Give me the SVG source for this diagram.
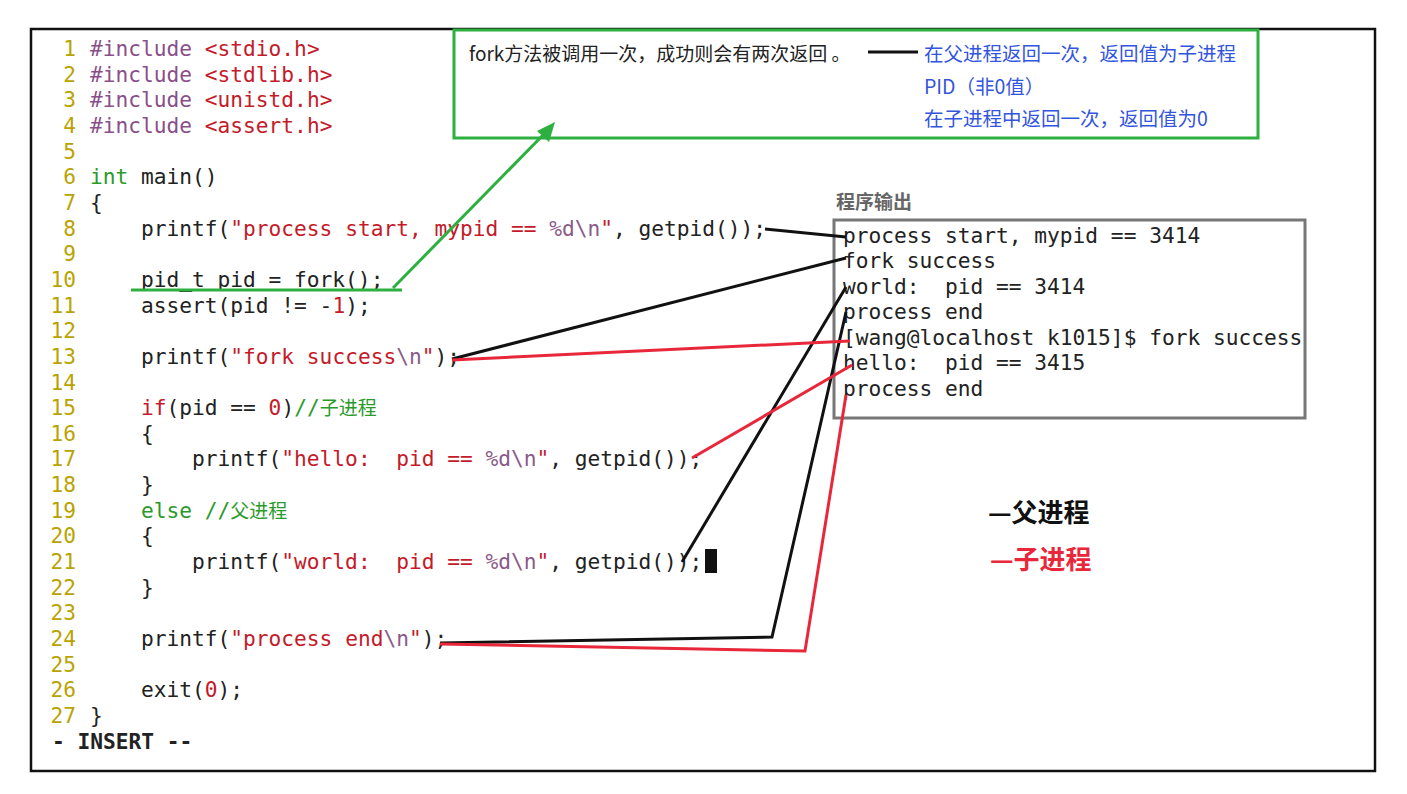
<svg xmlns="http://www.w3.org/2000/svg" width="1407" height="794" viewBox="0 0 1407 794">
<style>
.c{font-family:"DejaVu Sans Mono",monospace;font-size:21.2px;fill:#222;white-space:pre}
.n{fill:#b9a300;text-anchor:end}
.p{fill:#8a4f8a}.s{fill:#c41a2a}.k{fill:#2a9a2a}.v{fill:#8a5a8a}
.cj{font-family:"Noto Sans CJK SC",sans-serif}
.o{font-family:"DejaVu Sans Mono",monospace;font-size:21.2px;fill:#222;white-space:pre}
.bk{stroke:#111;stroke-width:3;fill:none}.rd{stroke:#e8283a;stroke-width:3;fill:none}
.bl{font-size:19.5px;fill:#3355dd}
</style>
<rect width="1407" height="794" fill="#fff"/>
<rect x="31" y="29" width="1344" height="742" fill="#fff" stroke="#111" stroke-width="2.5"/>
<g id="code">
<g class="c n">
<text x="76" y="56">1</text><text x="76" y="81.6">2</text><text x="76" y="107.3">3</text><text x="76" y="133">4</text><text x="76" y="158.6">5</text><text x="76" y="184.3">6</text><text x="76" y="209.9">7</text><text x="76" y="235.6">8</text><text x="76" y="261.2">9</text><text x="76" y="286.9">10</text><text x="76" y="312.5">11</text><text x="76" y="338.2">12</text><text x="76" y="363.8">13</text><text x="76" y="389.5">14</text><text x="76" y="415.1">15</text><text x="76" y="440.8">16</text><text x="76" y="466.4">17</text><text x="76" y="492.1">18</text><text x="76" y="517.7">19</text><text x="76" y="543.4">20</text><text x="76" y="569">21</text><text x="76" y="594.7">22</text><text x="76" y="620.3">23</text><text x="76" y="646">24</text><text x="76" y="671.6">25</text><text x="76" y="697.3">26</text><text x="76" y="722.9">27</text>
</g>
<text class="c" x="90" y="56"><tspan class="p">#include</tspan> <tspan class="s">&lt;stdio.h&gt;</tspan></text>
<text class="c" x="90" y="81.6"><tspan class="p">#include</tspan> <tspan class="s">&lt;stdlib.h&gt;</tspan></text>
<text class="c" x="90" y="107.3"><tspan class="p">#include</tspan> <tspan class="s">&lt;unistd.h&gt;</tspan></text>
<text class="c" x="90" y="133"><tspan class="p">#include</tspan> <tspan class="s">&lt;assert.h&gt;</tspan></text>
<text class="c" x="90" y="184.3"><tspan class="k">int</tspan> main()</text>
<text class="c" x="90" y="209.9">{</text>
<text class="c" x="90" y="235.6">    printf(<tspan class="s">"process start, mypid == </tspan><tspan class="v">%d\n</tspan><tspan class="s">"</tspan>, getpid());</text>
<text class="c" x="90" y="286.9">    pid_t pid = fork();</text>
<text class="c" x="90" y="312.5">    assert(pid != -<tspan class="s">1</tspan>);</text>
<text class="c" x="90" y="363.8">    printf(<tspan class="s">"fork success</tspan><tspan class="v">\n</tspan><tspan class="s">"</tspan>);</text>
<text class="c" x="90" y="415.1">    <tspan class="s">if</tspan>(pid == <tspan class="s">0</tspan>)<tspan class="k">//</tspan><tspan class="k cj" style="font-size:19px">子进程</tspan></text>
<text class="c" x="90" y="440.8">    {</text>
<text class="c" x="90" y="466.4">        printf(<tspan class="s">"hello:  pid == </tspan><tspan class="v">%d\n</tspan><tspan class="s">"</tspan>, getpid());</text>
<text class="c" x="90" y="492.1">    }</text>
<text class="c" x="90" y="517.7">    <tspan class="k">else //</tspan><tspan class="k cj" style="font-size:19px">父进程</tspan></text>
<text class="c" x="90" y="543.4">    {</text>
<text class="c" x="90" y="569">        printf(<tspan class="s">"world:  pid == </tspan><tspan class="v">%d\n</tspan><tspan class="s">"</tspan>, getpid());</text>
<text class="c" x="90" y="594.7">    }</text>
<text class="c" x="90" y="646">    printf(<tspan class="s">"process end</tspan><tspan class="v">\n</tspan><tspan class="s">"</tspan>);</text>
<text class="c" x="90" y="697.3">    exit(<tspan class="s">0</tspan>);</text>
<text class="c" x="90" y="722.9">}</text>
<text class="c" x="52" y="748.6" style="font-weight:bold">- INSERT --</text>
<rect x="705" y="549" width="12" height="24" fill="#111"/>
</g>
<g id="note">
<rect x="454" y="30" width="804" height="108" fill="#fff" stroke="#2db040" stroke-width="3"/>
<text class="cj" x="469" y="61" font-size="19" fill="#222">fork方法被调用一次，成功则会有两次返回 。</text>
<text class="cj bl" x="924" y="61">在父进程返回一次，返回值为子进程</text>
<text class="cj bl" x="924" y="94">PID（非0值）</text>
<text class="cj bl" x="924" y="126">在子进程中返回一次，返回值为0</text>
</g>
<g id="output">
<text class="cj" x="836" y="209" font-size="19" font-weight="bold" fill="#666">程序输出</text>
<rect x="834" y="220" width="471" height="198" fill="#fff" stroke="#777" stroke-width="3"/>
<text class="o" x="843" y="243">process start, mypid == 3414</text>
<text class="o" x="843" y="268">fork success</text>
<text class="o" x="843" y="294">world:  pid == 3414</text>
<text class="o" x="843" y="319">process end</text>
<text class="o" x="843" y="345">[wang@localhost k1015]$ fork success</text>
<text class="o" x="843" y="370">hello:  pid == 3415</text>
<text class="o" x="843" y="396">process end</text>
</g>
<g id="legend">
<text class="cj" x="988" y="522" font-size="26" font-weight="bold" fill="#111">—父进程</text>
<text class="cj" x="990" y="569" font-size="26" font-weight="bold" fill="#e8283a">—子进程</text>
</g>
<g id="connectors">
<line x1="131" y1="290" x2="402" y2="290" stroke="#2db040" stroke-width="3"/>
<line x1="393" y1="288" x2="546" y2="132" stroke="#2db040" stroke-width="3"/>
<polygon points="555,122 549,142 537,131" fill="#2db040"/>
<line x1="868" y1="52" x2="918" y2="52" stroke="#111" stroke-width="3"/>
<path class="bk" d="M765 229 L846 237"/>
<path class="bk" d="M452 359 L846 258"/>
<path class="bk" d="M682 562 L846 287"/>
<path class="bk" d="M440 643 L772 637 L846 312"/>
<path class="rd" d="M452 360 L850 341"/>
<path class="rd" d="M692 458 L852 365"/>
<path class="rd" d="M440 644 L805 651 L846 395"/>
</g>
</svg>
